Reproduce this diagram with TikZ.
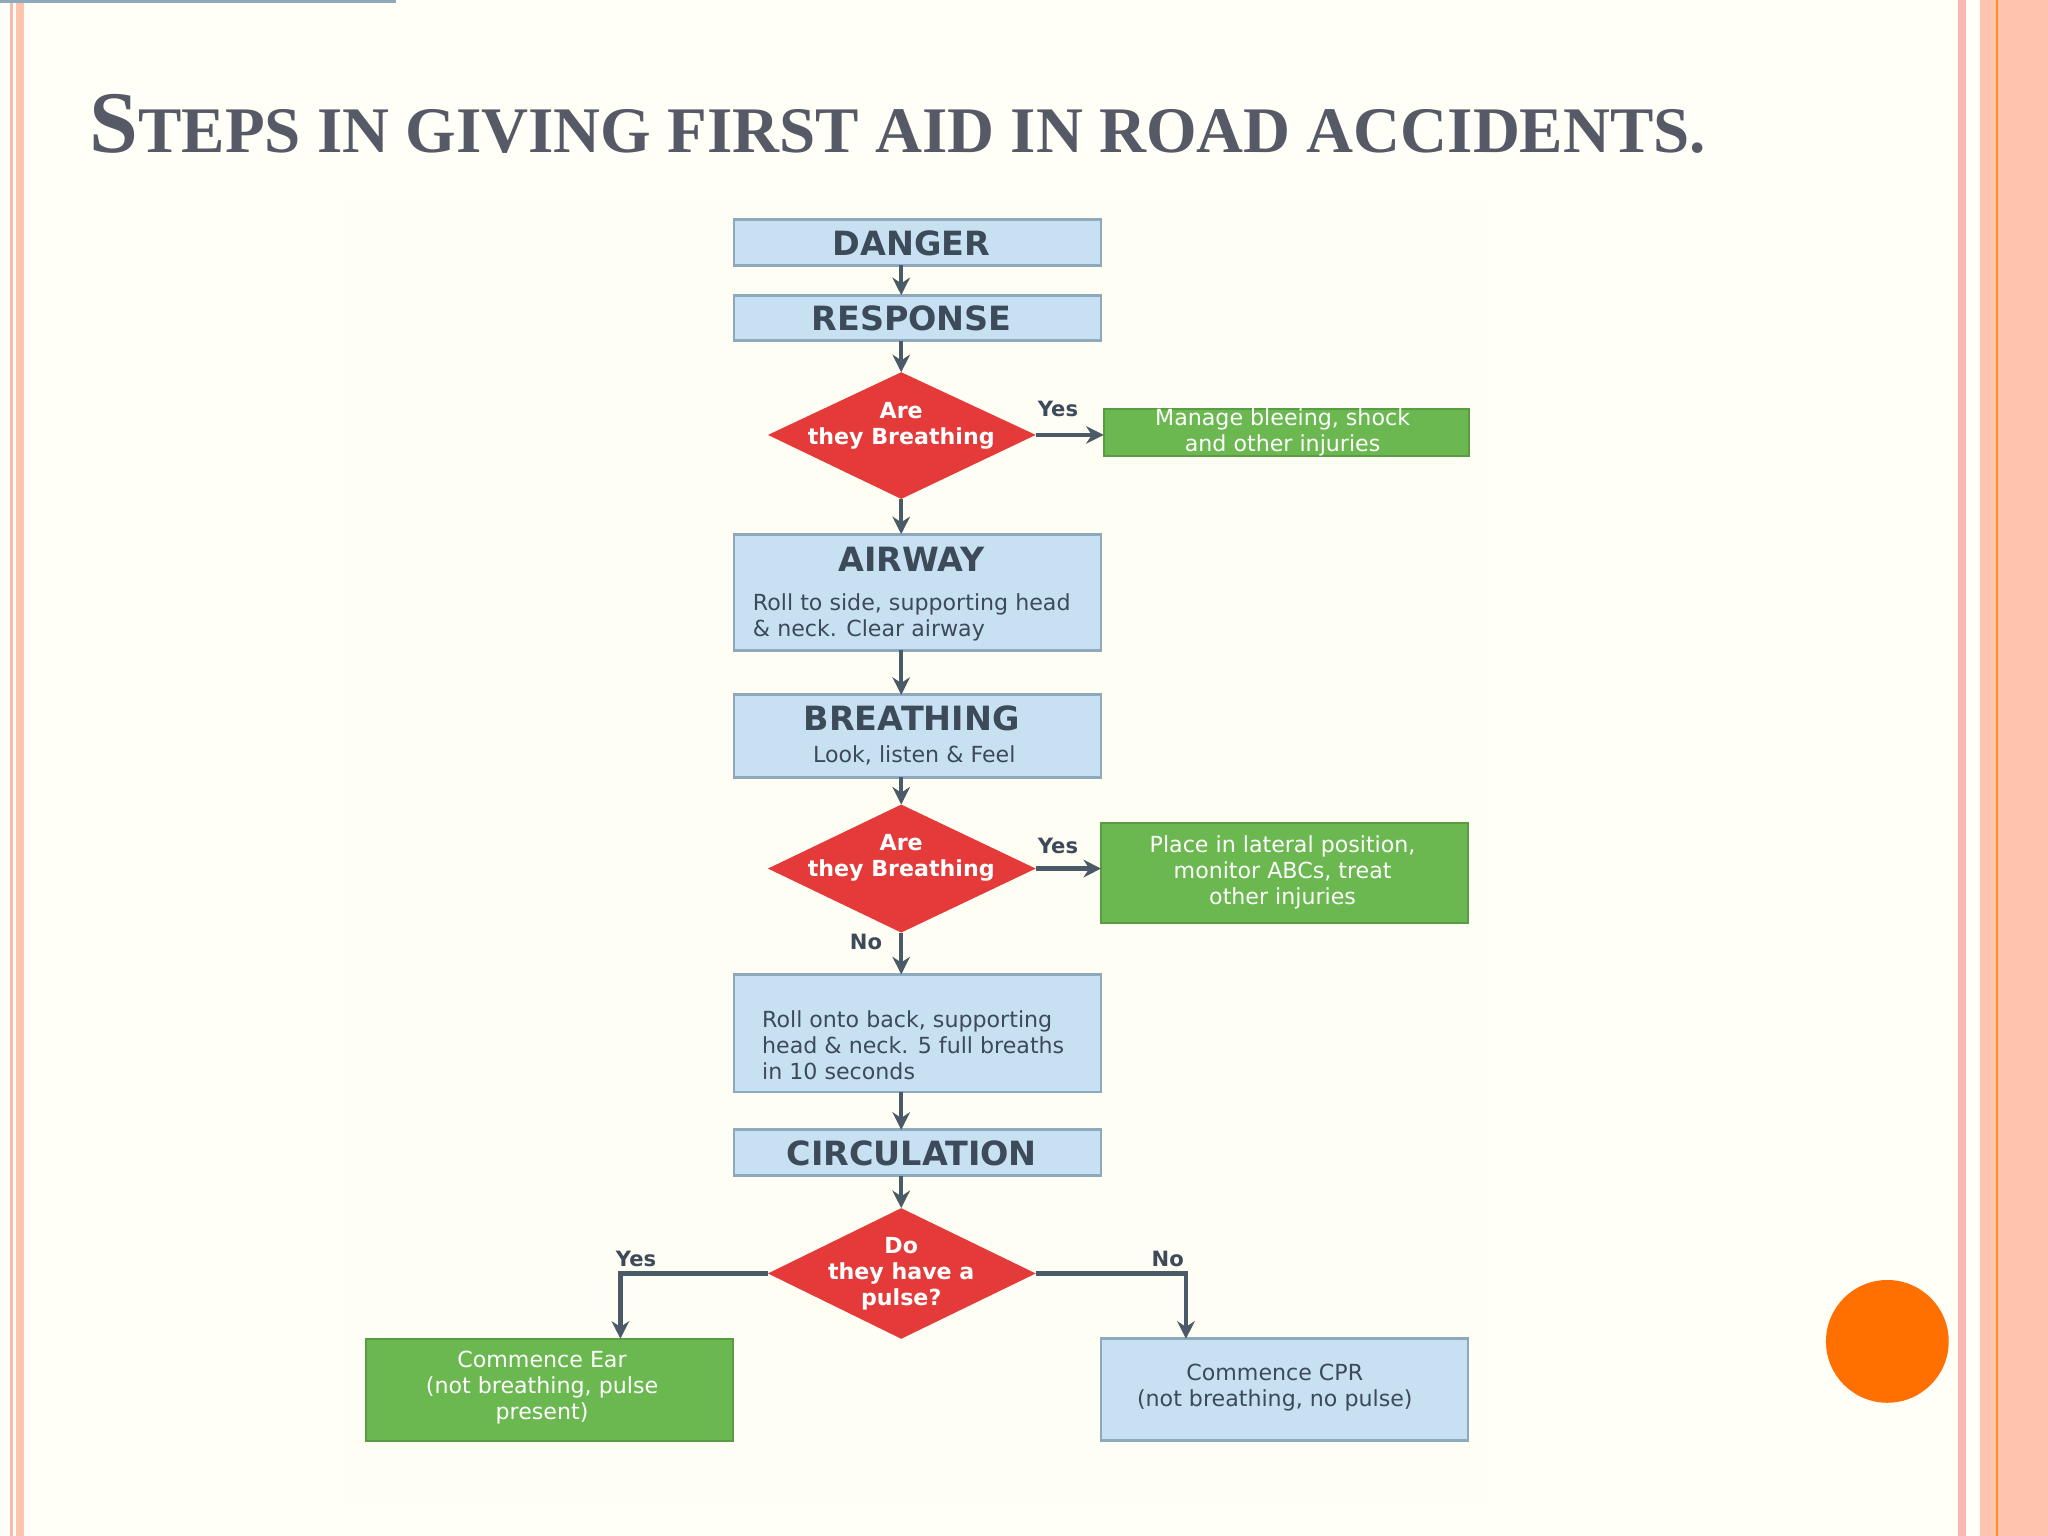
\documentclass[tikz,border=0pt]{standalone}
\usepackage{fontspec}
\setmainfont{Liberation Serif}
\setsansfont{DejaVu Sans}
\usetikzlibrary{shapes.geometric,arrows.meta}
\definecolor{bfill}{HTML}{C7E0F2}
\definecolor{bdraw}{HTML}{8FA9BC}
\definecolor{gfill}{HTML}{6AB84F}
\definecolor{rfill}{HTML}{E53A3A}
\definecolor{arr}{HTML}{4A5A66}
\definecolor{btxt}{HTML}{3C4A5A}
\definecolor{peach}{HTML}{FFC4AE}
\definecolor{pink}{HTML}{F9B9B0}
\definecolor{titlec}{HTML}{555A66}
\begin{document}
\begin{tikzpicture}[x=0.01306cm,y=-0.01306cm,
  box/.style={draw=bdraw,fill=bfill,line width=0.8pt,inner sep=0pt,text=btxt,font=\sffamily},
  gbox/.style={draw=gfill!85!black,fill=gfill,line width=0.6pt,inner sep=0pt,text=white,font=\sffamily\fontsize{6.3}{7.4}\selectfont,align=center},
  dia/.style={diamond,fill=rfill,inner sep=0pt,minimum width=205\pgflinewidth,text=white,font=\sffamily\bfseries\fontsize{6.3}{7.2}\selectfont,align=center},
  big/.style={font=\sffamily\bfseries\fontsize{9.5}{11}\selectfont,text=btxt},
  small/.style={font=\sffamily\fontsize{6.3}{7.4}\selectfont,text=btxt},
  lab/.style={font=\sffamily\bfseries\fontsize{6}{7}\selectfont,text=btxt},
  ar/.style={draw=arr,line width=1.2pt,-{Stealth[length=5pt,width=5pt]}}]
\useasboundingbox (0,0) rectangle (1568,1176);
\fill[white!97!yellow] (0,0) rectangle (1568,1176);
% borders
\fill[pink] (7.7,0) rectangle (10,1176);
\fill[peach] (12.2,0) rectangle (18.4,1176);
\fill[pink] (1499,0) rectangle (1505,1176);
\fill[peach] (1516,0) rectangle (1568,1176);
\fill[orange!80!peach] (1528.5,0) rectangle (1530,1176);
% title
\node[anchor=base west,inner sep=0pt,text=titlec,font=\bfseries] (title) at (68,117)
  {\fontsize{25}{30}\selectfont S\fontsize{18.5}{22}\selectfont TEPS IN GIVING FIRST AID IN ROAD ACCIDENTS.};
% panel
\fill[yellow!4!white] (262,155) rectangle (1140,1150);
% boxes
\node[box,minimum width=281\pgflinewidth] (danger) at (0,0) {};
\path[box] (562,168) rectangle (843,203);
\node[big] (dt) at (698,186) {DANGER};
\path[box] (562,226) rectangle (843,261);
\node[big] (rt) at (698,244) {RESPONSE};
\path[box] (562,409) rectangle (843,498);
\node[big] (at) at (698,428) {AIRWAY};
\node[small,anchor=north west,align=left] (atx) at (567,445) {Roll to side, supporting head\\\& neck. Clear airway};
\path[box] (562,532) rectangle (843,595);
\node[big] (bt) at (698,550) {BREATHING};
\node[small] (btx) at (700,578) {Look, listen \& Feel};
\path[box] (562,746) rectangle (843,836);
\node[small,anchor=north west,align=left] (rx) at (574,764) {Roll onto back, supporting\\head \& neck. 5 full breaths\\in 10 seconds};
\path[box] (562,865) rectangle (843,900);
\node[big] (ct) at (698,883) {CIRCULATION};
\path[box] (843,1025) rectangle (1124,1103);
\node[small,align=center] (cpr) at (976,1062) {Commence CPR\\(not breathing, no pulse)};
% green
\path[gbox] (845,313) rectangle (1125,349);
\node[gbox,draw=none,fill=none] (g1) at (982,331) {Manage bleeing, shock\\and other injuries};
\path[gbox] (843,630) rectangle (1124,707);
\node[gbox,draw=none,fill=none] (g2) at (982,668) {Place in lateral position,\\monitor ABCs, treat\\other injuries};
\path[gbox] (280,1025) rectangle (561,1103);
\node[gbox,draw=none,fill=none] (g3) at (415,1062) {Commence Ear\\(not breathing, pulse\\present)};
% diamonds
\fill[rfill] (690,285) -- (793,333) -- (690,382) -- (588,333) -- cycle;
\node[font=\sffamily\bfseries\fontsize{6.3}{7.4}\selectfont,text=white,align=center] (d1) at (690,326) {Are\\they Breathing};
\fill[rfill] (690,616) -- (793,665) -- (690,714) -- (588,665) -- cycle;
\node[font=\sffamily\bfseries\fontsize{6.3}{7.4}\selectfont,text=white,align=center] (d2) at (690,657) {Are\\they Breathing};
\fill[rfill] (690,925) -- (793,975) -- (690,1025) -- (588,975) -- cycle;
\node[font=\sffamily\bfseries\fontsize{6.3}{7.4}\selectfont,text=white,align=center] (d3) at (690,975) {Do\\they have a\\pulse?};
% arrows
\coordinate (a1) at (690,203); \coordinate (a1e) at (690,226);
\draw[ar] (a1) -- (a1e);
\coordinate (a2) at (690,261); \coordinate (a2e) at (690,285);
\draw[ar] (a2) -- (a2e);
\coordinate (a3) at (793,333); \coordinate (a3e) at (845,333);
\draw[ar] (a3) -- (a3e);
\coordinate (a4) at (690,382); \coordinate (a4e) at (690,409);
\draw[ar] (a4) -- (a4e);
\coordinate (a5) at (690,498); \coordinate (a5e) at (690,532);
\draw[ar] (a5) -- (a5e);
\coordinate (a6) at (690,595); \coordinate (a6e) at (690,616);
\draw[ar] (a6) -- (a6e);
\coordinate (a7) at (793,665); \coordinate (a7e) at (843,665);
\draw[ar] (a7) -- (a7e);
\coordinate (a8) at (690,714); \coordinate (a8e) at (690,746);
\draw[ar] (a8) -- (a8e);
\coordinate (a9) at (690,836); \coordinate (a9e) at (690,865);
\draw[ar] (a9) -- (a9e);
\coordinate (a10) at (690,900); \coordinate (a10e) at (690,925);
\draw[ar] (a10) -- (a10e);
\coordinate (a11) at (588,975); \coordinate (a11e) at (475,1025);
\draw[ar] (a11) -| (a11e);
\coordinate (a12) at (793,975); \coordinate (a12e) at (908,1025);
\draw[ar] (a12) -| (a12e);
% labels
\node[lab] (y1) at (810,313) {Yes};
\node[lab] (y2) at (810,648) {Yes};
\node[lab] (n2) at (663,721) {No};
\node[lab] (y3) at (487,964) {Yes};
\node[lab] (n3) at (894,964) {No};
% circle
\fill[orange!75!red!90!yellow] (1445,1027) circle (47);
\end{tikzpicture}
\end{document}
